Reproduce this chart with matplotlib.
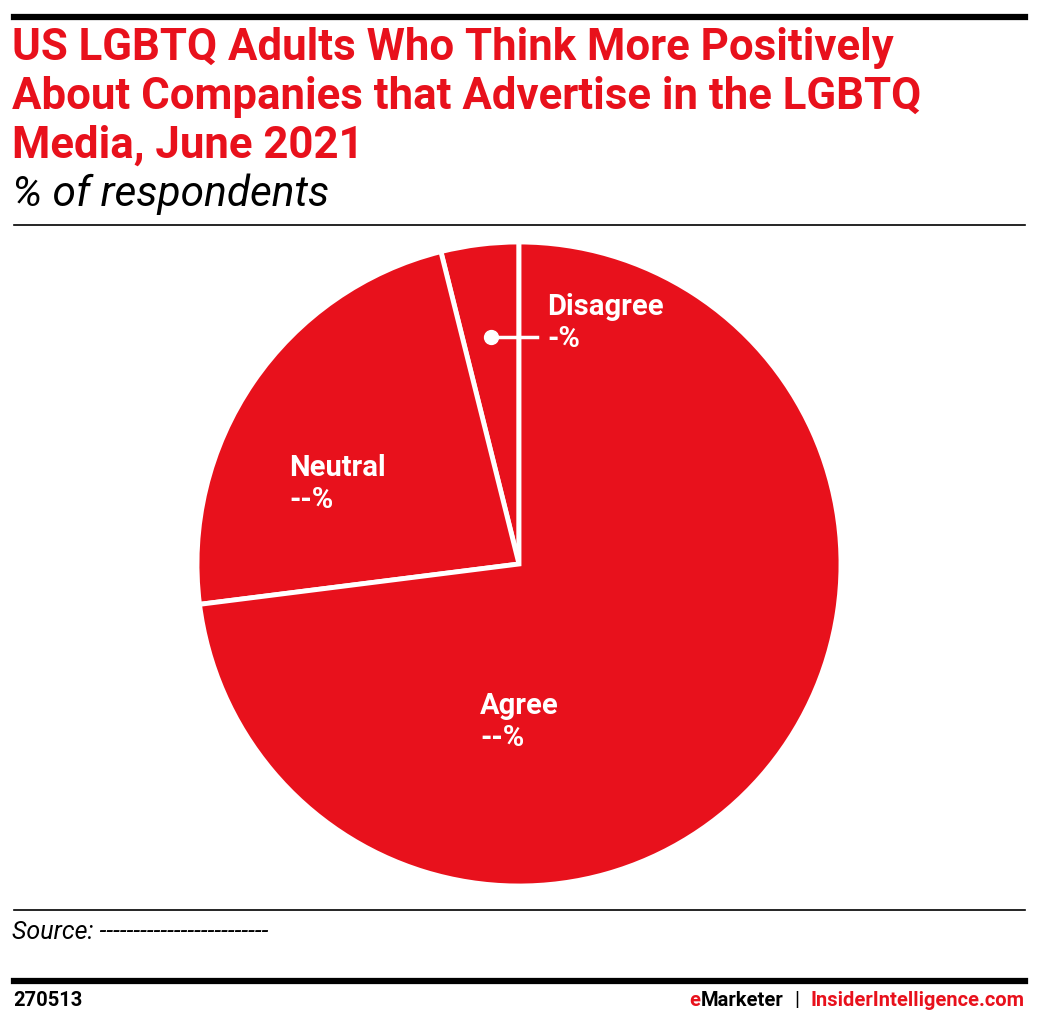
import numpy as np
import matplotlib.pyplot as plt

# Data
labels = ['Disagree', 'Neutral', 'Agree']
values = [3.9, 23.1, 73.0]
value_text = ['-%', '--%', '--%']

title = ('US LGBTQ Adults Who Think More Positively\n'
         'About Companies that Advertise in the LGBTQ\n'
         'Media, June 2021')
subtitle = '% of respondents'
source = 'Source: -------------------------'
chart_id = '270513'

red = '#E8111C'
W, H = 1038, 1026
fig = plt.figure(figsize=(W / 100, H / 100), dpi=100)

def fx(px):
    return px / W

def fy(py):
    return 1 - py / H

# header / footer rules
fig.add_artist(plt.Line2D([fx(14), fx(1025)], [fy(16.5), fy(16.5)], color='black', lw=4.5))
fig.add_artist(plt.Line2D([fx(14), fx(1025)], [fy(225), fy(225)], color='black', lw=1.2))
fig.add_artist(plt.Line2D([fx(14), fx(1025)], [fy(910), fy(910)], color='black', lw=1.2))
fig.add_artist(plt.Line2D([fx(14), fx(1025)], [fy(980.5), fy(980.5)], color='black', lw=4.5))

fig.text(fx(12), fy(27), title, color=red, fontsize=31.5, fontweight='bold',
         family='Roboto', va='top', ha='left', linespacing=1.2)
fig.text(fx(12), fy(194), subtitle, color='black', fontsize=30.5, style='italic',
         family='Roboto', va='center', ha='left')
fig.text(fx(12), fy(932), source, color='black', fontsize=18, style='italic',
         family='Roboto', va='center', ha='left')
fig.text(fx(13), fy(1001), chart_id, color='black', fontsize=14.5, fontweight='bold',
         family='Roboto', va='center', ha='left')

# footer brand, laid out right to left from measured widths
renderer = fig.canvas.get_renderer()
foot_kw = dict(fontsize=14.5, fontweight='bold', family='Roboto', va='center')
t1 = fig.text(fx(1025), fy(1001), 'InsiderIntelligence.com', color=red, ha='right', **foot_kw)
x_left = t1.get_window_extent(renderer).x0
t2 = fig.text((x_left - 14) / W, fy(1001), '|', color='black', ha='center',
              fontsize=14.5, family='Roboto', va='center')
t3 = fig.text((x_left - 28) / W, fy(1001), 'Marketer', color='black', ha='right', **foot_kw)
x_m = t3.get_window_extent(renderer).x0
fig.text(x_m / W, fy(1001), 'e', color=red, ha='right', **foot_kw)

# pie
cx, cy, r = 519, 564, 322
ax = fig.add_axes([fx(cx - r), fy(cy + r), 2 * r / W, 2 * r / H])
wedges, _ = ax.pie(values, startangle=90, counterclock=True, colors=[red] * 3,
                   wedgeprops=dict(edgecolor='white', linewidth=3.5))
ax.set_xlim(-1, 1)
ax.set_ylim(-1, 1)
ax.set_aspect('auto')
ax.axis('off')

lab_kw = dict(color='white', fontsize=21, fontweight='bold', family='Roboto',
              ha='left', va='center', linespacing=1.2)

# Disagree: leader line from dot
w = wedges[0]
mid = np.deg2rad((w.theta1 + w.theta2) / 2)
dx, dy = 0.71 * np.cos(mid), 0.71 * np.sin(mid)
ax.plot([dx, 0.056], [dy, dy], color='white', lw=2.5)
ax.plot(dx, dy, 'o', color='white', ms=10)
ax.text((547 - cx) / r, (cy - 323) / r, labels[0] + '\n' + value_text[0], **lab_kw)

ax.text((289 - cx) / r, (cy - 484) / r, labels[1] + '\n' + value_text[1], **lab_kw)
ax.text((480 - cx) / r, (cy - 722) / r, labels[2] + '\n' + value_text[2], **lab_kw)

fig.savefig('out.png', dpi=100, facecolor='white')
